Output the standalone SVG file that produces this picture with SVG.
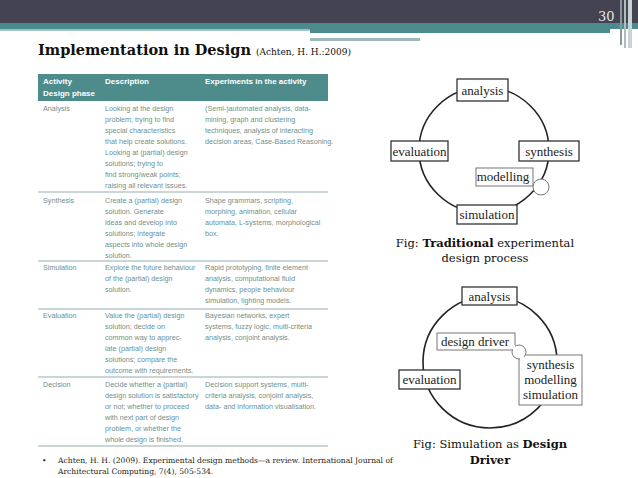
<svg xmlns="http://www.w3.org/2000/svg" width="638" height="478" viewBox="0 0 638 478">
<style>
.t{font-family:"Liberation Sans",Arial,sans-serif;font-size:7.2px;fill:#6f8f8c}
.h{font-family:"Liberation Sans",Arial,sans-serif;font-size:8px;font-weight:bold;fill:#ffffff}
.sep{stroke:#b9c9c8;stroke-width:1.5}
.n{font-family:"Liberation Serif","Times New Roman",serif;font-size:13px;fill:#222}
.bx{fill:#fff;stroke:#333;stroke-width:1.3}
.bx2{fill:#fff;stroke:#777;stroke-width:1}
.ring{fill:none;stroke:#222;stroke-width:1.6}
.cap{font-family:"DejaVu Serif","Liberation Serif",serif;font-size:11.5px;fill:#111}
</style>
<rect x="0" y="0" width="638" height="23" fill="#434352"/>
<rect x="0" y="23" width="638" height="6" fill="#4b8a8d"/>
<rect x="0" y="29" width="310" height="2" fill="#9fc2c2"/>
<rect x="310" y="29" width="300" height="4" fill="#4b8a8d"/>
<rect x="310" y="35" width="175" height="2" fill="#ffffff"/>
<rect x="310" y="38" width="110" height="3" fill="#9bb9ba"/>
<rect x="620" y="0" width="2" height="45" fill="#8a9a9c"/>
<rect x="624" y="0" width="2" height="48" fill="#b0bcbe"/>
<rect x="628" y="0" width="4" height="48" fill="#c9d2d4"/>
<text x="598" y="21" font-family="DejaVu Serif,serif" font-size="13" fill="#e6e6e6">30</text>
<text x="38" y="55" font-family="DejaVu Serif,'Liberation Serif',serif" font-size="14.5" font-weight="bold" fill="#111">Implementation in Design <tspan font-size="9" font-weight="normal">(Achten, H. H.:2009)</tspan></text>

<g id="table">
<rect x="38" y="74" width="290" height="27" fill="#4e8b8b"/>
<text class="h" x="43" y="84">Activity</text><text class="h" x="43" y="96">Design phase</text>
<text class="h" x="105" y="84">Description</text><text class="h" x="205" y="84">Experiments in the activity</text>
<text class="t" x="43" y="111">Analysis</text>
<text class="t" x="105" y="111">Looking at the design</text><text class="t" x="105" y="122">problem; trying to find</text><text class="t" x="105" y="133">special characteristics</text><text class="t" x="105" y="144">that help create solutions.</text><text class="t" x="105" y="155">Looking at (partial) design</text><text class="t" x="105" y="166">solutions; trying to</text><text class="t" x="105" y="177">find strong/weak points;</text><text class="t" x="105" y="188">raising all relevant issues.</text>
<text class="t" x="205" y="111">(Semi-)automated analysis, data-</text><text class="t" x="205" y="122">mining, graph and clustering</text><text class="t" x="205" y="133">techniques, analysis of interacting</text><text class="t" x="205" y="144">decision areas, Case-Based Reasoning.</text>
<line class="sep" x1="38" y1="192" x2="328" y2="192"/>
<text class="t" x="43" y="203">Synthesis</text>
<text class="t" x="105" y="203">Create a (partial) design</text><text class="t" x="105" y="214">solution. Generate</text><text class="t" x="105" y="225">ideas and develop into</text><text class="t" x="105" y="236">solutions; integrate</text><text class="t" x="105" y="247">aspects into whole design</text><text class="t" x="105" y="258">solution.</text>
<text class="t" x="205" y="203">Shape grammars, scripting,</text><text class="t" x="205" y="214">morphing, animation, cellular</text><text class="t" x="205" y="225">automata, L-systems, morphological</text><text class="t" x="205" y="236">box.</text>
<line class="sep" x1="38" y1="261" x2="328" y2="261"/>
<text class="t" x="43" y="270">Simulation</text>
<text class="t" x="105" y="270">Explore the future behaviour</text><text class="t" x="105" y="281">of the (partial) design</text><text class="t" x="105" y="292">solution.</text>
<text class="t" x="205" y="270">Rapid prototyping, finite element</text><text class="t" x="205" y="281">analysis, computational fluid</text><text class="t" x="205" y="292">dynamics, people behaviour</text><text class="t" x="205" y="303">simulation, lighting models.</text>
<line class="sep" x1="38" y1="309" x2="328" y2="309"/>
<text class="t" x="43" y="318">Evaluation</text>
<text class="t" x="105" y="318">Value the (partial) design</text><text class="t" x="105" y="329">solution; decide on</text><text class="t" x="105" y="340">common way to apprec-</text><text class="t" x="105" y="351">iate (partial) design</text><text class="t" x="105" y="362">solutions; compare the</text><text class="t" x="105" y="373">outcome with requirements.</text>
<text class="t" x="205" y="318">Bayesian networks, expert</text><text class="t" x="205" y="329">systems, fuzzy logic, multi-criteria</text><text class="t" x="205" y="340">analysis, conjoint analysis.</text>
<line class="sep" x1="38" y1="377" x2="328" y2="377"/>
<text class="t" x="43" y="387">Decision</text>
<text class="t" x="105" y="387">Decide whether a (partial)</text><text class="t" x="105" y="398">design solution is satisfactory</text><text class="t" x="105" y="409">or not; whether to proceed</text><text class="t" x="105" y="420">with next part of design</text><text class="t" x="105" y="431">problem, or whether the</text><text class="t" x="105" y="442">whole design is finished.</text>
<text class="t" x="205" y="387">Decision support systems, multi-</text><text class="t" x="205" y="398">criteria analysis, conjoint analysis,</text><text class="t" x="205" y="409">data- and information visualisation.</text>
<line class="sep" x1="38" y1="446" x2="328" y2="446" stroke-width="1"/>
</g>
<g id="footnote" font-family="DejaVu Serif,'Liberation Serif',serif" font-size="7.6" fill="#222">
<text x="42" y="463">•</text>
<text x="58" y="463">Achten, H. H. (2009). Experimental design methods—a review. International Journal of</text>
<text x="58" y="474">Architectural Computing, 7(4), 505-534.</text>
</g>

<g id="connectors">
<ellipse class="ring" cx="484" cy="150" rx="65" ry="63"/>
<ellipse class="ring" cx="490" cy="362" rx="67" ry="66"/>
</g>
<g id="n-analysis1"><rect class="bx" x="457" y="79" width="51" height="22"/><text class="n" x="482.5" y="95" text-anchor="middle">analysis</text></g>
<g id="n-evaluation1"><rect class="bx" x="391" y="141" width="57" height="20"/><text class="n" x="419.5" y="156" text-anchor="middle">evaluation</text></g>
<g id="n-synthesis1"><rect class="bx" x="519" y="141" width="60" height="20"/><text class="n" x="549" y="156" text-anchor="middle">synthesis</text></g>
<g id="n-modelling1"><rect class="bx2" x="476" y="168" width="57" height="18"/><circle cx="541" cy="187" r="8" fill="#fff" stroke="#777"/><text class="n" x="503" y="181" text-anchor="middle" font-size="12">modelling</text></g>
<g id="n-simulation1"><rect class="bx" x="457" y="205" width="60" height="19"/><text class="n" x="487" y="219" text-anchor="middle">simulation</text></g>
<text class="cap" x="485" y="247" text-anchor="middle">Fig: <tspan font-weight="bold">Traditional</tspan> experimental</text>
<text class="cap" x="485" y="262" text-anchor="middle">design process</text>

<g id="n-analysis2"><rect class="bx" x="462" y="287" width="55" height="18"/><text class="n" x="489.5" y="301" text-anchor="middle">analysis</text></g>
<g id="n-driver"><rect class="bx2" x="437" y="333" width="78" height="17"/><text class="n" x="475" y="346" text-anchor="middle">design driver</text></g>
<g id="n-ssm"><rect class="bx2" x="519" y="355" width="63" height="50"/><text class="n" x="550.5" y="369" text-anchor="middle">synthesis</text><text class="n" x="550.5" y="384" text-anchor="middle">modelling</text><text class="n" x="550.5" y="399" text-anchor="middle">simulation</text>
<circle cx="519" cy="352" r="7" fill="#fff" stroke="#777"/><rect x="510" y="345" width="5" height="4" fill="#fff"/><rect x="520" y="356" width="4" height="5" fill="#fff"/></g>
<g id="n-evaluation2"><rect class="bx" x="399" y="370" width="61" height="19"/><text class="n" x="429.5" y="384" text-anchor="middle">evaluation</text></g>
<text class="cap" x="490" y="448" text-anchor="middle">Fig: Simulation as <tspan font-weight="bold">Design</tspan></text>
<text class="cap" x="490" y="464" text-anchor="middle" font-weight="bold">Driver</text>
</svg>
